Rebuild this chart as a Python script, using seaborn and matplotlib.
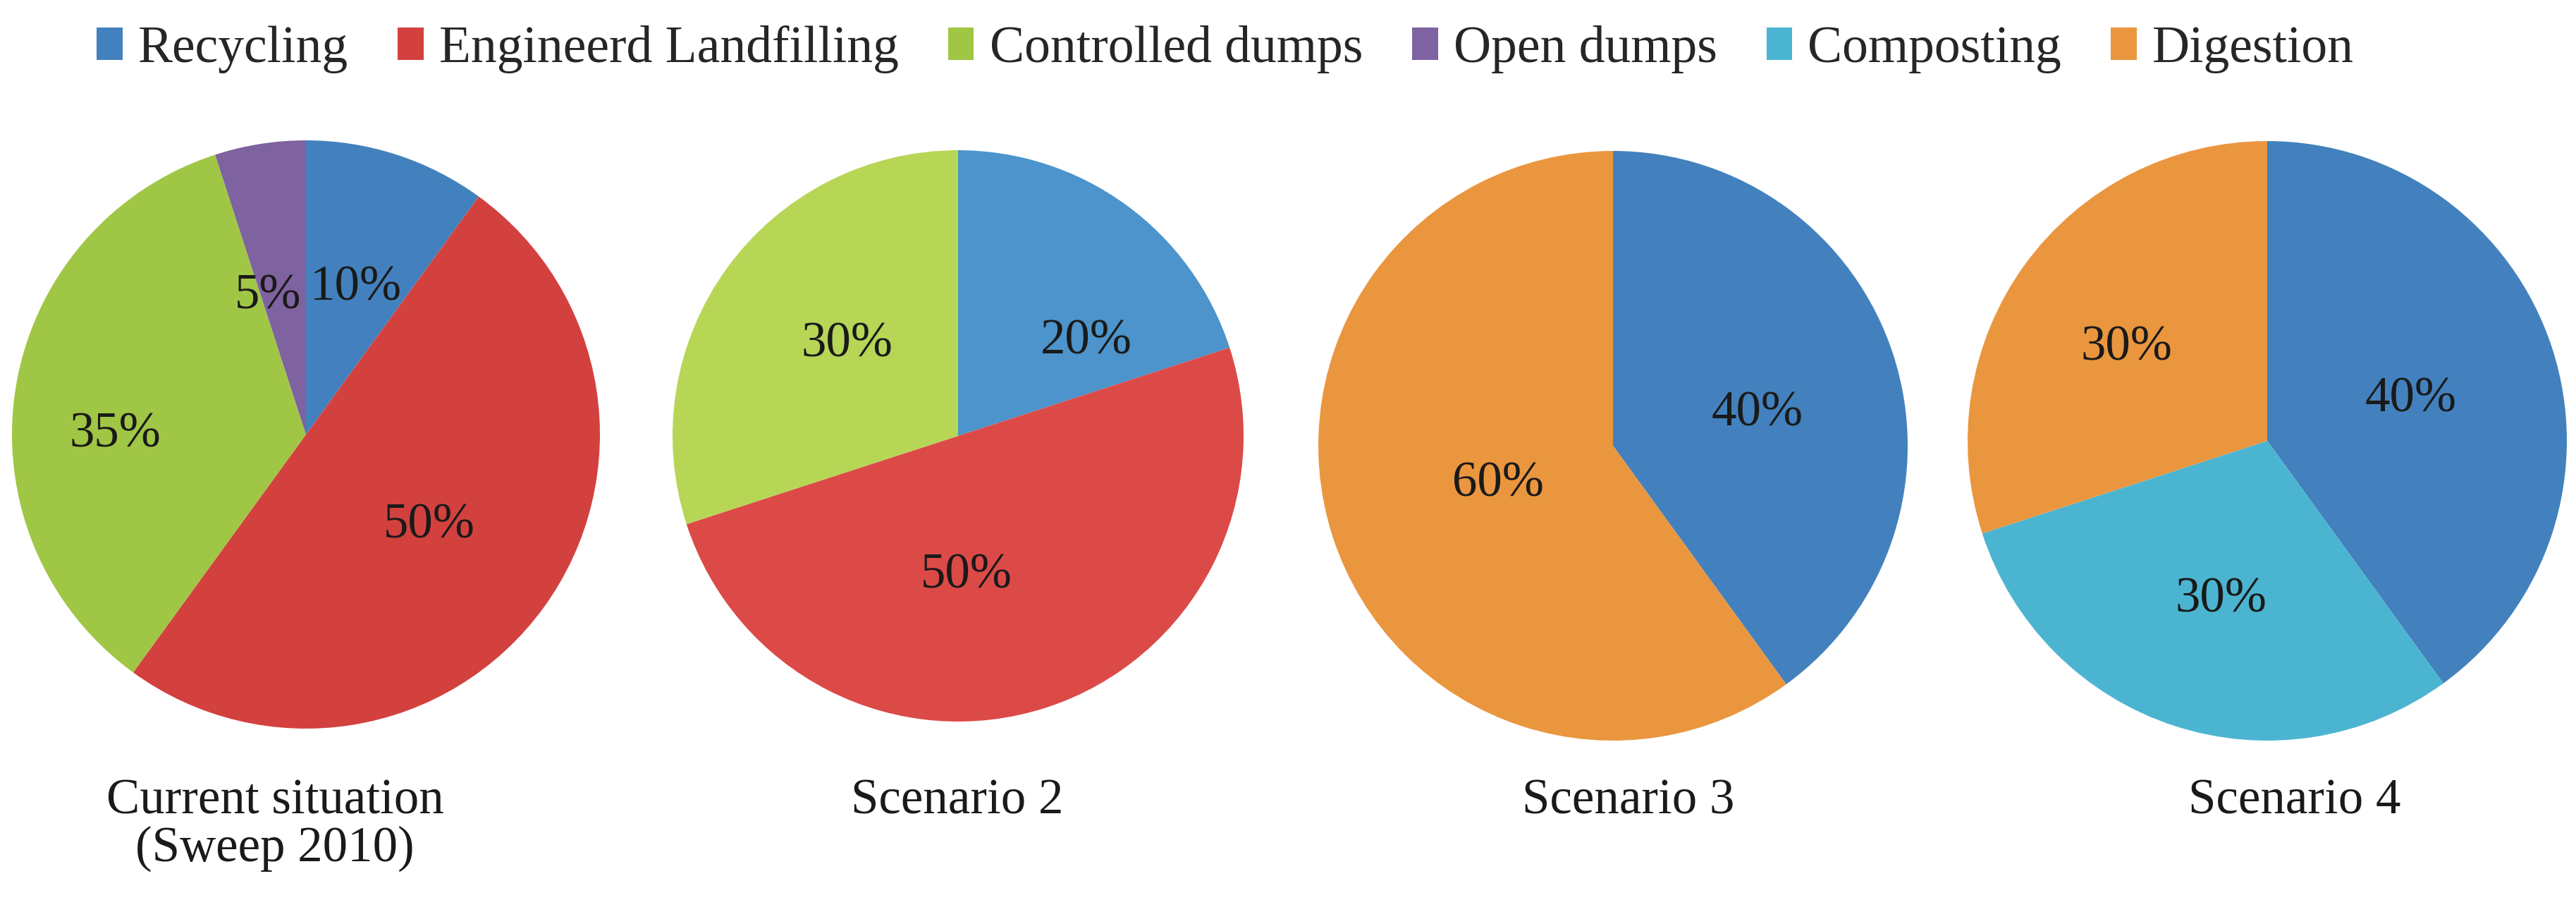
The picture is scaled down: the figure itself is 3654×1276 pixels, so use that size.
import matplotlib
matplotlib.use("Agg")
import matplotlib.pyplot as plt
from matplotlib.patches import Patch
import seaborn as sns

# data
categories = ["Recycling", "Engineerd Landfilling", "Controlled dumps",
              "Open dumps", "Composting", "Digestion"]
titles = ["Current situation\n(Sweep 2010)", "Scenario 2", "Scenario 3", "Scenario 4"]

current_labels = ["Recycling", "Engineerd Landfilling", "Controlled dumps", "Open dumps"]
current_values = [10, 50, 35, 5]
scen2_labels = ["Recycling", "Engineerd Landfilling", "Controlled dumps"]
scen2_values = [20, 50, 30]
scen3_labels = ["Recycling", "Digestion"]
scen3_values = [40, 60]
scen4_labels = ["Recycling", "Composting", "Digestion"]
scen4_values = [40, 30, 30]

palette = {
    "Recycling": "#4281bd",
    "Engineerd Landfilling": "#d3413f",
    "Controlled dumps": "#a0c645",
    "Open dumps": "#7f62a0",
    "Composting": "#4bb5d1",
    "Digestion": "#ea963f",
}
# scenario 2 is drawn a bit lighter in the original
palette_light = {
    "Recycling": "#4c94cb",
    "Engineerd Landfilling": "#dc4a48",
    "Controlled dumps": "#b7d656",
}

sns.set_theme(style="white")
plt.rcParams["font.family"] = ["Liberation Serif", "DejaVu Serif"]

W, H, DPI = 3654, 1276, 200
FS = 25.5
fig = plt.figure(figsize=(W / DPI, H / DPI), dpi=DPI)

# layout in pixels: centre x, centre y, radius; label spots in radius units
pies = [
    (current_labels, current_values, palette, (434, 616, 417),
     [(0.17, 0.50), (0.42, -0.31), (-0.65, 0.0), (-0.13, 0.47)]),
    (scen2_labels, scen2_values, palette_light, (1359, 618, 405),
     [(0.45, 0.33), (0.03, -0.49), (-0.39, 0.32)]),
    (scen3_labels, scen3_values, palette, (2288, 632, 418),
     [(0.49, 0.11), (-0.39, -0.13)]),
    (scen4_labels, scen4_values, palette, (3216, 625, 425),
     [(0.48, 0.14), (-0.155, -0.53), (-0.47, 0.31)]),
]
title_x = [390, 1358, 2310, 3255]

for (labels, values, pal, (cx, cy, r), spots), title, tx in zip(pies, titles, title_x):
    ax = fig.add_axes([(cx - r) / W, 1 - (cy + r) / H, 2 * r / W, 2 * r / H])
    wedges, _, autotexts = ax.pie(
        values, colors=[pal[l] for l in labels], startangle=90, counterclock=False,
        autopct="%d%%", pctdistance=0.5,
        wedgeprops=dict(linewidth=0), textprops=dict(fontsize=FS, color="#1a1a1a"))
    for t, pos in zip(autotexts, spots):
        t.set_position(pos)
    ax.set_xlim(-1, 1)
    ax.set_ylim(-1, 1)
    ax.set_aspect("equal")
    ax.axis("off")
    fig.text(tx / W, 1 - 1103 / H, title, ha="center", va="top",
             fontsize=FS, linespacing=1.05, color="#1a1a1a")

handles = [Patch(facecolor=palette[c], edgecolor="none", label=c) for c in categories]
fig.legend(handles=handles, loc="center", bbox_to_anchor=(1738 / W, 1 - 70 / H),
           ncol=6, frameon=False, fontsize=26.5, handlelength=0.5, handleheight=0.6,
           handletextpad=0.3, columnspacing=0.95, borderaxespad=0)

fig.savefig("out.png", dpi=DPI, facecolor="white")
